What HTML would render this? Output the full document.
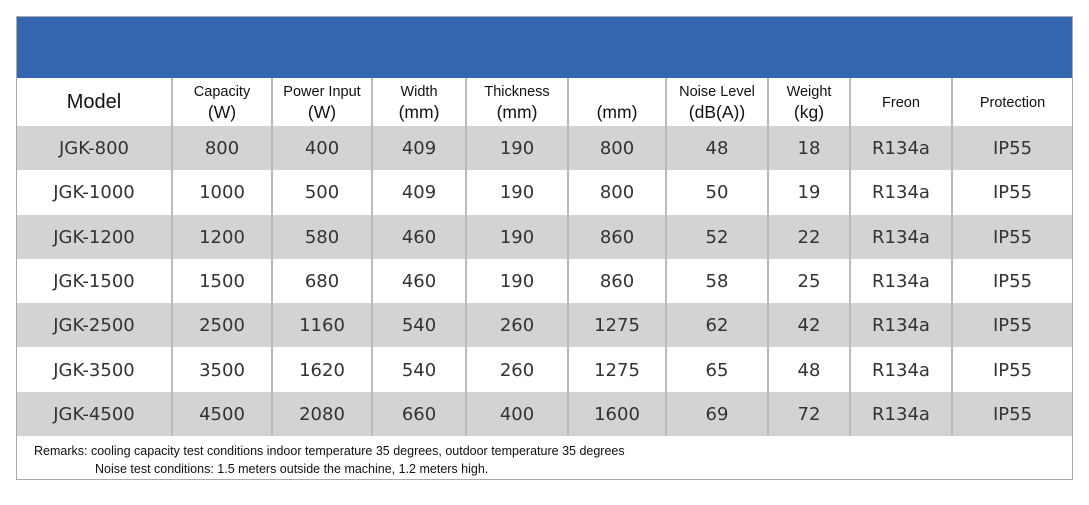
<!DOCTYPE html>
<html><head><meta charset="utf-8"><style>
body{margin:0;width:1089px;height:505px;background:#fff;position:relative;overflow:hidden}
.box{position:absolute;left:16px;top:16px;width:1055px;height:462px;border:1px solid #aaa}
.blue{position:absolute;left:17px;top:17px;width:1055px;height:61px;background:#3567b0}
table{position:absolute;left:17px;top:78px;width:1055px;border-collapse:collapse;table-layout:fixed}
td{padding:0;text-align:center;vertical-align:middle;border-left:2px solid #bbb}
td:first-child{border-left:none}
tr.d td{font-family:"DejaVu Sans",sans-serif;font-size:18px;color:#333;height:42.3px;padding-top:2px;line-height:20px}
tr.d.g td{background:#d3d3d3}
tr.h td{font-family:"Liberation Sans",sans-serif;font-size:14.5px;color:#111;line-height:20px;height:46px;padding-top:2px}
.u{font-size:17.5px}
.rem{position:absolute;font-family:"Liberation Sans",sans-serif;font-size:12.5px;color:#111}
</style></head><body>
<div class="box"></div>
<div class="blue"></div>
<table>
<colgroup><col style="width:155px"><col style="width:100px"><col style="width:100px"><col style="width:94px"><col style="width:102px"><col style="width:98px"><col style="width:102px"><col style="width:82px"><col style="width:102px"><col style="width:120px"></colgroup>
<tr class="h"><td><span style="font-size:20px">Model</span></td><td>Capacity<br><span class="u">(W)</span></td><td>Power Input<br><span class="u">(W)</span></td><td>Width<br><span class="u">(mm)</span></td><td>Thickness<br><span class="u">(mm)</span></td><td><br><span class="u">(mm)</span></td><td>Noise Level<br><span class="u">(dB(A))</span></td><td>Weight<br><span class="u">(kg)</span></td><td>Freon</td><td>Protection</td></tr>
<tr class="d g"><td>JGK-800</td><td>800</td><td>400</td><td>409</td><td>190</td><td>800</td><td>48</td><td>18</td><td>R134a</td><td>IP55</td></tr>
<tr class="d"><td>JGK-1000</td><td>1000</td><td>500</td><td>409</td><td>190</td><td>800</td><td>50</td><td>19</td><td>R134a</td><td>IP55</td></tr>
<tr class="d g"><td>JGK-1200</td><td>1200</td><td>580</td><td>460</td><td>190</td><td>860</td><td>52</td><td>22</td><td>R134a</td><td>IP55</td></tr>
<tr class="d"><td>JGK-1500</td><td>1500</td><td>680</td><td>460</td><td>190</td><td>860</td><td>58</td><td>25</td><td>R134a</td><td>IP55</td></tr>
<tr class="d g"><td>JGK-2500</td><td>2500</td><td>1160</td><td>540</td><td>260</td><td>1275</td><td>62</td><td>42</td><td>R134a</td><td>IP55</td></tr>
<tr class="d"><td>JGK-3500</td><td>3500</td><td>1620</td><td>540</td><td>260</td><td>1275</td><td>65</td><td>48</td><td>R134a</td><td>IP55</td></tr>
<tr class="d g"><td>JGK-4500</td><td>4500</td><td>2080</td><td>660</td><td>400</td><td>1600</td><td>69</td><td>72</td><td>R134a</td><td>IP55</td></tr>
</table>
<div class="rem" style="left:34px;top:444px">Remarks: cooling capacity test conditions indoor temperature 35 degrees, outdoor temperature 35 degrees</div>
<div class="rem" style="left:95px;top:462px">Noise test conditions: 1.5 meters outside the machine, 1.2 meters high.</div>
</body></html>
